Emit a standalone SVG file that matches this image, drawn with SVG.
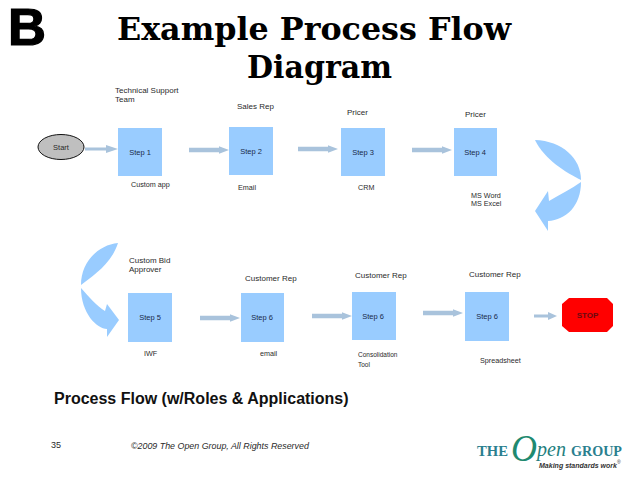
<svg xmlns="http://www.w3.org/2000/svg" width="638" height="479" viewBox="0 0 638 479">
<style>
text{font-family:"Liberation Sans",Arial,sans-serif;fill:#2a2a2a}
.t{font-family:"DejaVu Serif",serif;font-weight:bold;font-size:31px;fill:#000}
.l{font-size:8px}
.m{font-size:7.200px}
.s{font-size:7.500px;fill:#1a2a4a;text-anchor:middle}
.b{fill:#99ccff}
.a{fill:#a9c3dc}
.c{fill:#99ccff}
.g{font-family:"Liberation Serif",serif;fill:#2a7f8f}
</style>
<defs>
<path id="arr" class="a" d="M0-2.300H30V-3.800L40 0L30 3.800V2.300H0Z"/>
</defs>
<rect width="638" height="479" fill="#fff"/>
<text x="8" y="45" textLength="38" lengthAdjust="spacingAndGlyphs" style="font-weight:bold;font-size:51px;fill:#000;stroke:#000;stroke-width:1.200px">B</text>
<text class="t" x="117" y="40" textLength="394" lengthAdjust="spacingAndGlyphs">Example Process Flow</text>
<text class="t" x="247" y="78" textLength="145" lengthAdjust="spacingAndGlyphs">Diagram</text>

<g id="connectors">
<path class="a" d="M85 147.500H106V145L118 149L106 153V150.500H85Z"/>
<use href="#arr" x="189" y="150"/>
<use href="#arr" x="298" y="149"/>
<use href="#arr" x="412" y="150"/>
<use href="#arr" x="200" y="318"/>
<use href="#arr" x="312" y="316"/>
<use href="#arr" x="423" y="313"/>
<path class="a" d="M534 314.500H548V312L557 316L548 320V317.500H534Z"/>
<path class="c" d="M535 140C562 141 581 158 581 180C565 172 545 160 535 140Z"/>
<path class="c" d="M581 182C581 206 566 220 548 221V231L535 211L548 191L549 201C561 194 571 189 581 182Z"/>
<path class="c" d="M118 243C98 245 81 262 81 285C92 276 111 265 118 243Z"/>
<path class="c" d="M81 288C81 313 97 329 107 329V337L119 320L107 304L105 311C97 306 88 296 81 288Z"/>
</g>

<g id="start"><ellipse cx="61" cy="147" rx="23" ry="12.500" fill="#bfbfbf" stroke="#111" stroke-width="1"/><text x="61" y="150" text-anchor="middle" style="font-size:7.500px">Start</text></g>

<g id="n1"><rect class="b" x="118" y="128" width="44" height="48"/><text class="s" x="140" y="155">Step 1</text></g>
<g id="n2"><rect class="b" x="229" y="127" width="44" height="48"/><text class="s" x="251" y="154">Step 2</text></g>
<g id="n3"><rect class="b" x="341" y="128" width="44" height="48"/><text class="s" x="363" y="155">Step 3</text></g>
<g id="n4"><rect class="b" x="454" y="128" width="43" height="48"/><text class="s" x="475" y="155">Step 4</text></g>
<g id="n5"><rect class="b" x="128" y="293" width="44" height="49"/><text class="s" x="150" y="320">Step 5</text></g>
<g id="n6"><rect class="b" x="241" y="293" width="43" height="49"/><text class="s" x="262" y="320">Step 6</text></g>
<g id="n7"><rect class="b" x="352" y="292" width="44" height="48"/><text class="s" x="373" y="319">Step 6</text></g>
<g id="n8"><rect class="b" x="465" y="292" width="44" height="49"/><text class="s" x="487" y="319">Step 6</text></g>
<g id="stop"><path d="M569 298H607L613 304V326L607 332H569L562 326V304Z" fill="#ff0000"/><text x="587.500" y="318" text-anchor="middle" style="font-size:8px;font-weight:bold;fill:#6a0a10">STOP</text></g>

<g id="labels">
<text class="l" x="115" y="93">Technical Support</text>
<text class="l" x="115" y="102">Team</text>
<text class="l" x="237" y="109">Sales Rep</text>
<text class="l" x="347" y="115">Pricer</text>
<text class="l" x="465" y="117">Pricer</text>
<text class="m" x="131" y="187">Custom app</text>
<text class="m" x="238" y="190">Email</text>
<text class="m" x="358" y="190">CRM</text>
<text class="m" x="471" y="198">MS Word</text>
<text class="m" x="471" y="206">MS Excel</text>
<text class="l" x="129" y="263">Custom Bid</text>
<text class="l" x="129" y="272">Approver</text>
<text class="l" x="245" y="281">Customer Rep</text>
<text class="l" x="355" y="278">Customer Rep</text>
<text class="l" x="469" y="277">Customer Rep</text>
<text class="m" x="144" y="356">IWF</text>
<text class="m" x="260" y="356">email</text>
<text style="font-size:6.500px" x="358" y="357">Consolidation</text>
<text style="font-size:6.500px" x="358" y="367">Tool</text>
<text class="m" x="480" y="363">Spreadsheet</text>
</g>

<text x="54" y="404" style="font-weight:bold;font-size:16px;fill:#111">Process Flow (w/Roles &amp; Applications)</text>
<text x="51" y="448" style="font-size:9px">35</text>
<text x="131" y="449" style="font-size:8.900px;font-style:italic">©2009 The Open Group, All Rights Reserved</text>

<text class="g" x="477" y="456" textLength="31" lengthAdjust="spacingAndGlyphs" style="font-weight:bold;font-size:14px">THE</text>
<text class="g" x="511" y="461" textLength="26" lengthAdjust="spacingAndGlyphs" style="font-style:italic;font-size:38px;fill:#1f8a70">O</text>
<text class="g" x="537" y="456" style="font-style:italic;font-size:20px;fill:#1f7f80">pen</text>
<text class="g" x="571" y="456" textLength="51" lengthAdjust="spacingAndGlyphs" style="font-weight:bold;font-size:14px">GROUP</text>
<text x="539" y="468" textLength="78" lengthAdjust="spacingAndGlyphs" style="font-size:7px;font-style:italic;font-weight:bold;fill:#333">Making standards work</text>
<text x="617" y="464" style="font-size:5px;fill:#333">®</text>
</svg>
